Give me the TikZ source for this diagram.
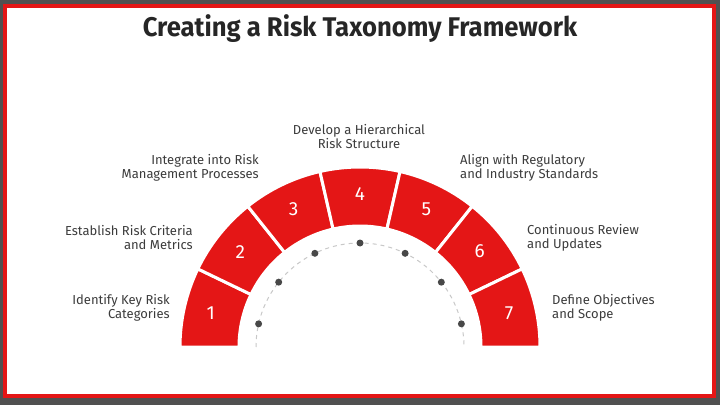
\documentclass[tikz,border=0pt]{standalone}
\usepackage{fontspec}
\setmainfont{Fira Sans}
\definecolor{segred}{RGB}{228,22,22}
\definecolor{framegray}{RGB}{80,80,80}
\definecolor{txtgray}{RGB}{60,60,60}
\definecolor{titlegray}{RGB}{38,38,38}
\definecolor{dotgray}{RGB}{72,72,72}
\definecolor{dashgray}{RGB}{200,200,200}
\tikzset{
  segstyle/.style={fill=segred, draw=white, line width=3pt, line join=miter},
  numstyle/.style={text=white, font=\fontsize{19}{21}\selectfont, inner sep=0pt},
  dotstyle/.style={circle, fill=dotgray, inner sep=0pt, minimum size=7pt},
  dasharc/.style={draw=dashgray, line width=1pt, dash pattern=on 4pt off 4pt},
  lbl/.style={text=txtgray, font=\fontsize{13}{14}\selectfont, inner sep=0pt},
}
\begin{document}
\begin{tikzpicture}[x=1pt,y=1pt]
\useasboundingbox (0,0) rectangle (720,405);
\fill[framegray] (0,0) rectangle (720,405);
\fill[segred] (3,7) rectangle (716,401);
\fill[white] (7,11) rectangle (712,397);
\node[text=titlegray, font=\fontsize{27}{30}\selectfont\bfseries, inner sep=0pt, anchor=base] (title) at (360,368) {\scalebox{0.95}[1]{Creating a Risk Taxonomy Framework}};
\begin{scope}[shift={(360,58)}]
  \draw[dasharc] (180:104) arc[start angle=180, end angle=0, radius=104];
  \foreach \i in {1,...,7}{
    \pgfmathsetmacro\aa{180-(\i-1)*180/7}
    \pgfmathsetmacro\ab{180-\i*180/7}
    \pgfmathsetmacro\am{180-(\i-0.5)*180/7}
    \draw[segstyle] (\aa:180) arc[start angle=\aa, end angle=\ab, radius=180] -- (\ab:121) arc[start angle=\ab, end angle=\aa, radius=121] -- cycle;
    \node[numstyle] (n\i) at (\am:153) {\i};
    \node[dotstyle] (d\i) at (\am:104) {};
  }
\end{scope}
\node[lbl, align=right, anchor=east] (l1) at (170,97) {Identify Key Risk\\Categories};
\node[lbl, align=right, anchor=east] (l2) at (193,167.5) {Establish Risk Criteria\\and Metrics};
\node[lbl, align=right, anchor=east] (l3) at (259,237.5) {Integrate into Risk\\Management Processes};
\node[lbl, align=center] (l4) at (359,268) {Develop a Hierarchical\\Risk Structure};
\node[lbl, align=left, anchor=west] (l5) at (460,237.5) {Align with Regulatory\\and Industry Standards};
\node[lbl, align=left, anchor=west] (l6) at (527,167.5) {Continuous Review\\and Updates};
\node[lbl, align=left, anchor=west] (l7) at (552,97) {Define Objectives\\and Scope};
\end{tikzpicture}
\end{document}
